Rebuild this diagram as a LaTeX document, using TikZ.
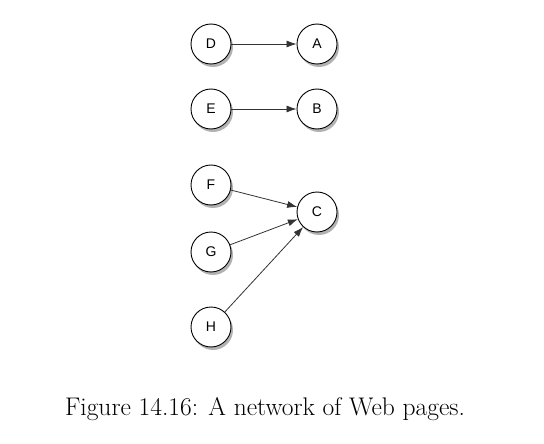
\documentclass[tikz,border=0pt]{standalone}
\usepackage{fontspec}
\newfontfamily\nodefont{Liberation Sans}
\usetikzlibrary{arrows.meta,shadows}
\begin{document}
\begin{tikzpicture}[x=1pt,y=-1pt,
  page/.style={circle,draw=black,line width=0.9pt,fill=white,minimum size=40pt,inner sep=0pt,
    font=\nodefont\fontsize{14}{16}\selectfont,
    drop shadow={shadow xshift=2pt,shadow yshift=-3pt,opacity=0.3,fill=black}},
  link/.style={draw=black!80,line width=0.8pt,-{Latex[length=10pt,width=7pt]}}]
\useasboundingbox (0,0) rectangle (544,444);
\node[page] (D) at (211,44) {D};
\node[page] (A) at (317,44) {A};
\node[page] (E) at (211,109) {E};
\node[page] (B) at (317,109) {B};
\node[page] (F) at (211,185) {F};
\node[page] (C) at (317,212) {C};
\node[page] (G) at (211,252) {G};
\node[page] (H) at (211,327) {H};
\draw[link] (D) -- (A);
\draw[link] (E) -- (B);
\draw[link] (F) -- (C);
\draw[link] (G) -- (C);
\draw[link] (H) -- (C);
\node[anchor=base,font=\fontsize{25.5}{30}\selectfont,inner sep=0pt] (cap) at (265,415) {Figure 14.16: A network of Web pages.};
\end{tikzpicture}
\end{document}
